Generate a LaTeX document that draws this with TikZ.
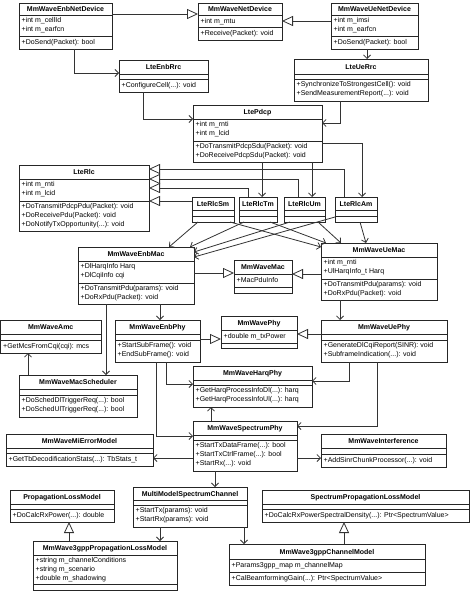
\documentclass[tikz,border=0pt]{standalone}
\usepackage{fontspec}
\setmainfont{Liberation Sans}
\usetikzlibrary{arrows.meta,fit}
\newcommand{\fs}{\fontsize{7}{8.7}\selectfont}
\tikzset{
  cls/.style={draw=black!85, fill=white, line width=0.8pt, inner sep=0pt, outer sep=0pt},
  sepline/.style={draw=black!85, line width=0.8pt},
  ttl/.style={font=\fs\bfseries, inner sep=0pt, text height=5.2pt, text depth=0pt},
  txt/.style={anchor=north west, align=left, font=\fs, inner xsep=2.5pt, inner ysep=2.5pt,
    execute at begin node={\rule{0pt}{6.2pt}}},
  dep/.style={draw=black!80, line width=0.8pt, -{Straight Barb[length=3.5pt,width=7pt]}},
  inh/.style={draw=black!80, line width=0.8pt, -{Triangle[open,length=11pt,width=10pt,fill=white]}},
}
\newcommand{\umlclass}[8]{%
  \node[cls, fit={#2 #3}] (#1) {};
  \draw[sepline] (#1.west |- 0,#4) -- (#1.east |- 0,#4);
  \draw[sepline] (#1.west |- 0,#5) -- (#1.east |- 0,#5);
  \path (#1.north) -- (#1.north |- 0,#4) node[midway, ttl] (#1-t) {#6};
  \node[txt] (#1-a) at (#1.west |- 0,#4) {#7};
  \node[txt] (#1-m) at (#1.west |- 0,#5) {#8};
}
\begin{document}
\begin{tikzpicture}[x=1pt, y=-1pt]
\useasboundingbox (0,0) rectangle (474,594);
\fill[white] (0,0) rectangle (474,594);

\umlclass{enbnd}{(19,3)}{(112,49)}{15}{36}{MmWaveEnbNetDevice}{+int m\_cellId\\+int m\_earfcn}{+DoSend(Packet): bool}
\umlclass{nd}{(198,3)}{(282,40)}{15}{27}{MmWaveNetDevice}{+int m\_mtu}{+Receive(Packet): void}
\umlclass{uend}{(331,3)}{(418,49)}{15}{36}{MmWaveUeNetDevice}{+int m\_imsi\\+int m\_earfcn}{+DoSend(Packet): bool}
\umlclass{enbrrc}{(119,60)}{(208,92)}{74}{79}{LteEnbRrc}{}{+ConfigureCell(...): void}
\umlclass{uerrc}{(294,59)}{(428,101)}{74}{79}{LteUeRrc}{}{+SynchronizeToStrongestCell(): void\\+SendMeasurementReport(...): void}
\umlclass{pdcp}{(193,105)}{(322,162)}{119}{141}{LtePdcp}{+int m\_rnti\\+int m\_lcid}{+DoTransmitPdcpSdu(Packet): void\\+DoReceivePdcpSdu(Packet): void}
\umlclass{rlc}{(19,165)}{(149,231)}{179}{201}{LteRlc}{+int m\_rnti\\+int m\_lcid}{+DoTransmitPdcpPdu(Packet): void\\+DoReceivePdu(Packet): void\\+DoNotifyTxOpportunity(...): void}
\umlclass{rlcsm}{(192,197)}{(234,222)}{210}{216}{LteRlcSm}{}{}
\umlclass{rlctm}{(239,197)}{(277,222)}{210}{216}{LteRlcTm}{}{}
\umlclass{rlcum}{(284,197)}{(325,222)}{210}{216}{LteRlcUm}{}{}
\umlclass{rlcam}{(335,197)}{(377,222)}{210}{216}{LteRlcAm}{}{}
\umlclass{enbmac}{(78,247)}{(194,304)}{261}{283}{MmWaveEnbMac}{+DlHarqInfo Harq\\+DlCqiInfo cqi}{+DoTransmitPdu(params): void\\+DoRxPdu(Packet): void}
\umlclass{uemac}{(321,243)}{(437,300)}{257}{279}{MmWaveUeMac}{+int m\_rnti\\+UlHarqInfo\_t Harq}{+DoTransmitPdu(params): void\\+DoRxPdu(Packet): void}
\umlclass{mac}{(234,260)}{(292,293)}{274}{287}{MmWaveMac}{+MacPduInfo}{}
\umlclass{amc}{(0.5,320)}{(101,353)}{334}{340}{MmWaveAmc}{}{+GetMcsFromCqi(cqi): mcs}
\umlclass{sched}{(19,375)}{(137,417)}{389}{395}{MmWaveMacScheduler}{}{+DoSchedDlTriggerReq(...): bool\\+DoSchedUlTriggerReq(...): bool}
\umlclass{enbphy}{(115,320)}{(200,362)}{334}{340}{MmWaveEnbPhy}{}{+StartSubFrame(): void\\+EndSubFrame(): void}
\umlclass{phy}{(221,316)}{(297,348)}{330}{343}{MmWavePhy}{+double m\_txPower}{}
\umlclass{uephy}{(321,320)}{(447,362)}{334}{340}{MmWaveUePhy}{}{+GenerateDlCqiReport(SINR): void\\+SubframeIndication(...): void}
\umlclass{harq}{(193,366)}{(312,407)}{380}{385}{MmWaveHarqPhy}{}{+GetHarqProcessInfoDl(...): harq\\+GetHarqProcessInfoUl(...): harq}
\umlclass{specphy}{(193,421)}{(297,471)}{435}{440}{MmWaveSpectrumPhy}{}{+StartTxDataFrame(...): bool\\+StartTxCtrlFrame(...): bool\\+StartRx(...): void}
\umlclass{mierr}{(6,434)}{(153,466)}{448}{453}{MmWaveMiErrorModel}{}{+GetTbDecodificationStats(...): TbStats\_t}
\umlclass{interf}{(321,434)}{(446,467)}{448}{454}{MmWaveInterference}{}{+AddSinrChunkProcessor(...): void}
\umlclass{mmchan}{(133,487)}{(247,527)}{500}{505}{MultiModelSpectrumChannel}{}{+StartTx(params): void\\+StartRx(params): void}
\umlclass{proploss}{(10,490)}{(114,522)}{504}{509}{PropagationLossModel}{}{+DoCalcRxPower(...): double}
\umlclass{specprop}{(262,490)}{(469,522)}{504}{509}{SpectrumPropagationLossModel}{}{+DoCalcRxPowerSpectralDensity(...): Ptr<SpectrumValue>}
\umlclass{prop3gpp}{(33,541)}{(177,590)}{555}{584}{MmWave3gppPropagationLossModel}{+string m\_channelConditions\\+string m\_scenario\\+double m\_shadowing}{}
\umlclass{chan3gpp}{(229,544)}{(425,585)}{559}{572}{MmWave3gppChannelModel}{+Params3gpp\_map m\_channelMap}{+CalBeamformingGain(...): Ptr<SpectrumValue>}

% net devices
\draw[inh] (enbnd.east |- 0,14) -- (nd.west |- 0,14);
\draw[inh] (uend.west |- 0,21) -- (nd.east |- 0,21);
\draw[dep] (74,0 |- enbnd.south) |- (enbrrc.west |- 0,73);
\draw[dep] (367,0 |- uend.south) -- (367,0 |- uerrc.north);
% rrc -> pdcp
\draw[dep] (143,0 |- enbrrc.south) |- (pdcp.west |- 0,119);
\draw[dep] (340,0 |- uerrc.south) |- (pdcp.east |- 0,123);
% rlc inheritance
\draw[inh] (344,0 |- rlcam.north) |- (rlc.east |- 0,169);
\draw[inh] (298,0 |- rlcum.north) |- (rlc.east |- 0,179);
\draw[inh] (248,0 |- rlctm.north) |- (rlc.east |- 0,188);
\draw[inh] (rlcsm.west |- 0,201) -- (rlc.east |- 0,201);
% pdcp -> rlc
\draw[dep] (262,0 |- pdcp.south) -- (262,0 |- rlctm.north);
\draw[dep] (312,0 |- pdcp.south) -- (312,0 |- rlcum.north);
\draw[dep] (pdcp.east |- 0,143) -| (362,0 |- rlcam.north);
% rlc -> mac
\draw[dep] (198,0 |- rlcsm.south) -- (169,0 |- enbmac.north);
\draw[dep] (244,0 |- rlctm.south) -- (190,0 |- enbmac.north);
\draw[dep] (290,0 |- rlcum.south) -- (enbmac.east |- 0,252);
\draw[dep] (rlcam.west |- 0,217) -- (enbmac.east |- 0,257);
\draw[dep] (230,0 |- rlcsm.south) -- (uemac.west |- 0,247);
\draw[dep] (270,0 |- rlctm.south) -- (326,0 |- uemac.north);
\draw[dep] (318,0 |- rlcum.south) -- (341,0 |- uemac.north);
\draw[dep] (360,0 |- rlcam.south) -- (366,0 |- uemac.north);
% mac
\draw[inh] (enbmac.east |- 0,273) -- (mac.west |- 0,273);
\draw[inh] (uemac.west |- 0,274) -- (mac.east |- 0,274);
\draw[dep] (106,0 |- enbmac.south) -- (106,0 |- sched.north);
\draw[dep] (28,0 |- sched.north) -- (28,0 |- amc.south);
\draw[dep] (160,0 |- enbmac.south) -- (160,0 |- enbphy.north);
\draw[dep] (340,0 |- uemac.south) -- (340,0 |- uephy.north);
% phy
\draw[inh] (enbphy.east |- 0,339) -- (phy.west |- 0,339);
\draw[inh] (uephy.west |- 0,334) -- (phy.east |- 0,334);
\draw[dep] (166,0 |- enbphy.south) |- (harq.west |- 0,384);
\draw[dep] (349,0 |- uephy.south) |- (harq.east |- 0,381);
\draw[dep] (156,0 |- enbphy.south) |- (specphy.west |- 0,436);
\draw[dep] (377,0 |- uephy.south) |- (specphy.east |- 0,426);
\draw[dep] (211,0 |- specphy.north) -- (211,0 |- harq.south);
\draw[dep] (specphy.west |- 0,458) -- (mierr.east |- 0,458);
\draw[dep] (specphy.east |- 0,458) -- (interf.west |- 0,458);
\draw[dep] (215,0 |- specphy.south) -- (215,0 |- mmchan.north);
% channel / propagation
\draw[dep] (160,0 |- mmchan.south) -- (160,0 |- prop3gpp.north);
\draw[dep] (244,0 |- mmchan.south) -- (244,0 |- chan3gpp.north);
\draw[inh] (69,0 |- prop3gpp.north) -- (69,0 |- proploss.south);
\draw[inh] (344,0 |- chan3gpp.north) -- (344,0 |- specprop.south);
\end{tikzpicture}
\end{document}
